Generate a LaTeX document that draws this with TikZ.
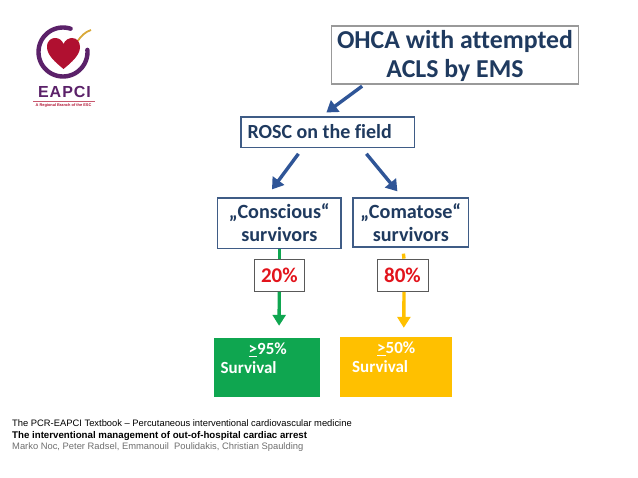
\documentclass[tikz,border=0pt]{standalone}
\usepackage{fontspec}
\setmainfont[Ligatures=NoCommon]{Carlito}
\newfontfamily\arialf{Liberation Sans}
\usetikzlibrary{calc,arrows.meta,backgrounds}
\definecolor{navy}{HTML}{1F3A5F}
\definecolor{boxline}{HTML}{3F5C86}
\definecolor{arrowblue}{HTML}{2F5597}
\definecolor{greenbar}{HTML}{0FA650}
\definecolor{yellowbar}{HTML}{FFC000}
\definecolor{redtxt}{HTML}{E2141C}
\definecolor{purplelogo}{HTML}{5B2169}
\definecolor{heartred}{HTML}{B01030}
\definecolor{goldlogo}{HTML}{D9A93A}
\definecolor{greytxt}{HTML}{6E6E6E}
\tikzset{
  flowbox/.style={draw=boxline,line width=1.3pt,fill=white,text=navy,align=center,inner sep=0pt,font=\bfseries},
  pctbox/.style={draw=black!65,line width=0.8pt,fill=white,text=redtxt,inner sep=0pt,font=\fontsize{21}{21}\selectfont\bfseries},
  resultbox/.style={inner sep=0pt},
  resulttxt/.style={text=white,inner sep=0pt,anchor=base west,font=\fontsize{17}{17}\selectfont\bfseries},
  bluearrow/.style={draw=arrowblue,line width=3.4pt,-{Triangle[length=11pt,width=14pt]}},
  vbar/.style={line width=3.4pt},
  varrow/.style={line width=3.4pt,-{Triangle[length=11pt,width=13pt]}},
  foot/.style={anchor=base west,inner sep=0pt,font=\arialf\fontsize{9.37}{9.37}\selectfont},
}
\begin{document}
\begin{tikzpicture}[x=1pt,y=-1pt]
\useasboundingbox (0,0) rectangle (638,478);
% logo
\draw[purplelogo,line width=4.4pt,line cap=round] plot[smooth,domain=72:365,samples=50] ({63+24.5*cos(\x)},{52-24.5*sin(\x)});
\draw[goldlogo,line width=1.8pt] (77,42) .. controls (81,36) and (85,32) .. (91,30);
\fill[heartred] (63.5,69) .. controls (55,62) and (47,55) .. (47,47) .. controls (47,40) and (52,38) .. (55,38) .. controls (59,38) and (62,40) .. (63.5,44) .. controls (65,40) and (69,38) .. (72,38) .. controls (77,38) and (80,42) .. (80,47) .. controls (80,55) and (72,62) .. (63.5,69) -- cycle;
\node[text=purplelogo,inner sep=0pt,font=\arialf\fontsize{16}{16}\selectfont\bfseries\addfontfeature{LetterSpace=6}] (eapci) at (64.5,91.5) {EAPCI};
\draw[heartred!70,line width=0.5pt] (33,101.5) -- (95,101.5);
\node[text=heartred,inner sep=0pt,font=\arialf\fontsize{3.9}{3.9}\selectfont\bfseries] (branch) at (63.5,105.8) {A Regional Branch of the ESC};
% boxes
\node[flowbox,minimum width=247pt,minimum height=58pt,draw=black!40] (ohca) at (455.3,55) {};
\node[text=navy,inner sep=0pt,align=center,font=\fontsize{25.8}{29.8}\selectfont\bfseries] (ohcatxt) at (455,56) {OHCA with attempted\\ACLS by EMS};
\node[flowbox,minimum width=173.5pt,minimum height=30.5pt] (rosc) at (327.8,132.4) {};
\node[text=navy,inner sep=0pt,anchor=base west,font=\fontsize{20}{20}\selectfont\bfseries] (rosctxt) at (247.3,138.5) {ROSC on the field};
\node[flowbox,minimum width=123.3pt,minimum height=50.5pt] (conscious) at (279.3,223.3) {};
\node[text=navy,inner sep=0pt,align=center,font=\fontsize{20.2}{22.5}\selectfont\bfseries] (conscioustxt) at (279.3,222.5) {„Conscious“\\survivors};
\node[flowbox,minimum width=115.5pt,minimum height=49pt] (comatose) at (410.8,222.5) {};
\node[text=navy,inner sep=0pt,align=center,font=\fontsize{20.2}{22.5}\selectfont\bfseries] (comatosetxt) at (410.8,222.5) {„Comatose“\\survivors};
\node[pctbox,minimum width=50.5pt,minimum height=32.5pt] (p20) at (279.3,275.3) {20\%};
\node[pctbox,minimum width=51pt,minimum height=32.5pt] (p80) at (402.5,275.3) {80\%};
\node[resultbox,fill=greenbar,minimum width=106pt,minimum height=59pt] (good) at (267,367.5) {};
\node[resultbox,fill=yellowbar,minimum width=112pt,minimum height=60pt] (fair) at (396,367) {};
\node[resulttxt] (good1) at (248.5,355) {\underline{>}95\%};
\node[resulttxt] (good2) at (220.5,374) {Survival};
\node[resulttxt] (fair1) at (377,354) {\underline{>}50\%};
\node[resulttxt] (fair2) at (352,373) {Survival};
\draw[bluearrow] ($(ohca.south west)+(31,1.5)$) -- ($(rosc.north west)+(86,-4)$);
\draw[bluearrow] ($(rosc.south west)+(58,5.5)$) -- ($(conscious.north west)+(55,-8)$);
\draw[bluearrow] ($(rosc.south west)+(126,5.5)$) -- ($(comatose.north west)+(45,-6)$);
\begin{scope}[on background layer]
\draw[vbar,greenbar] (conscious.south) -- (p20.north);
\draw[vbar,yellowbar] ($(comatose.south west)+(51,6)$) -- ($(p80.north)+(1.5,0)$);
\end{scope}
\draw[varrow,greenbar] (p20.south) -- ($(good.north west)+(65.3,-12)$);
\draw[varrow,yellowbar] ($(p80.south)+(1.5,0)$) -- ($(fair.north west)+(64,-9)$);
% footer
\node[foot] (f1) at (12,426.5) {The PCR-EAPCI Textbook – Percutaneous interventional cardiovascular medicine};
\node[foot,font=\arialf\fontsize{9.7}{9.7}\selectfont\bfseries] (f2) at (12,438.5) {The interventional management of out-of-hospital cardiac arrest};
\node[foot,text=greytxt] (f3) at (12,450) {Marko Noc, Peter Radsel, Emmanouil\ \ Poulidakis, Christian Spaulding};
\end{tikzpicture}
\end{document}
